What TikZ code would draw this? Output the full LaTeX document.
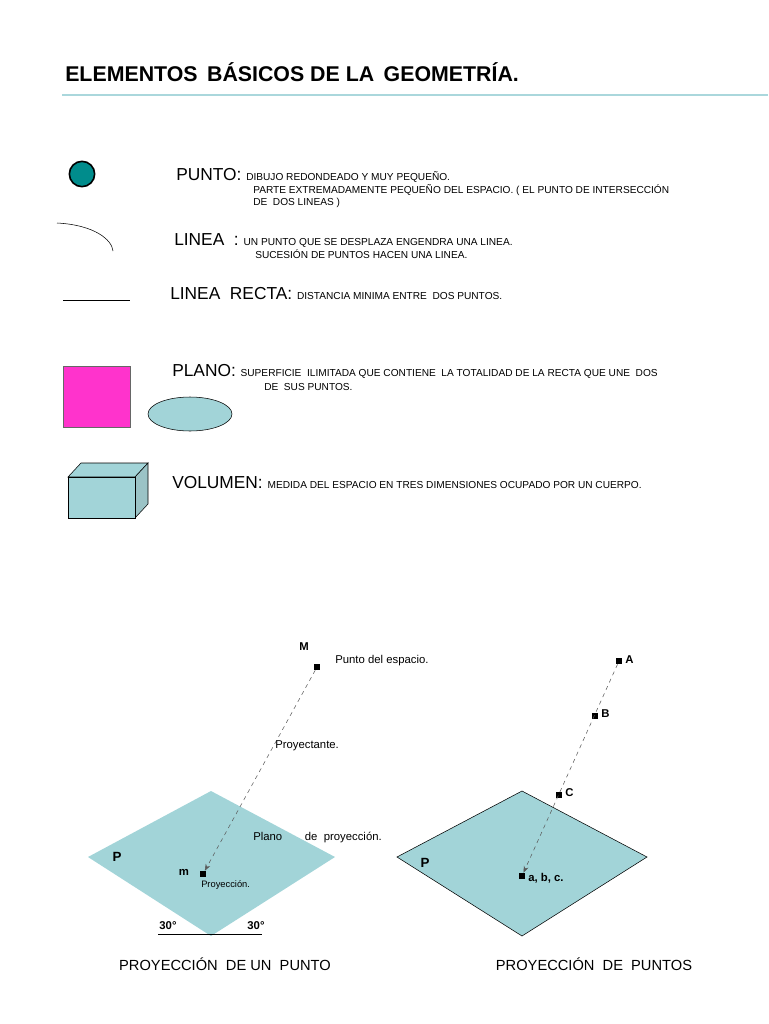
\documentclass[tikz,border=0pt]{standalone}
\usepackage{fontspec}
\setmainfont{Liberation Sans}
\usetikzlibrary{arrows.meta}
\definecolor{lb}{RGB}{162,212,216}
\definecolor{teal1}{RGB}{0,140,140}
\definecolor{mag}{RGB}{255,51,204}
\definecolor{rule}{RGB}{170,215,220}
\newcommand{\smf}{\fontsize{7.6}{9.6}\selectfont}
\tikzset{big/.style={anchor=base west,inner sep=0,font=\fontsize{13}{15}\selectfont},
sm/.style={anchor=north west,inner sep=0,font=\smf,align=left},
lab/.style={inner sep=0,font=\fontsize{8.5}{10}\selectfont},
bl/.style={inner sep=0,font=\bfseries\fontsize{8.5}{10}\selectfont},
pt/.style={fill=black,minimum size=4.5pt,inner sep=0},
proj/.style={dashed,gray!70!black,-{Stealth[length=5pt]}}}
\begin{document}
\begin{tikzpicture}[x=0.75pt,y=-0.75pt]
\useasboundingbox (0,0) rectangle (768,1024);
\node[anchor=base west,inner sep=0,font=\bfseries\fontsize{16}{19}\selectfont] (title) at (65,82) {ELEMENTOS\, BÁSICOS DE LA\, GEOMETRÍA.};
\draw[rule,line width=1.2pt] (62,95) -- (768,95);
% icons
\node[circle,draw=black,line width=1.2pt,fill=teal1,minimum size=19pt,inner sep=0] (dot) at (82,174) {};
\draw (57,223) .. controls (95,225) and (112,240) .. (113,251);
\draw (63,300) -- (130,300);
\fill[mag,draw=black!60] (63,366) rectangle (130,427);
\draw[fill=lb] (190,414) ellipse [x radius=42,y radius=17];
\draw[fill=lb] (68,477) -- (81,463) -- (148,463) -- (135,477) -- cycle;
\draw[fill=lb!80!gray] (135,477) -- (148,463) -- (148,504) -- (135,518) -- cycle;
\draw[fill=lb] (68,477) rectangle (135,518);
% texts
\node[big] (t1) at (176,180) {PUNTO: \smf DIBUJO REDONDEADO Y MUY PEQUEÑO.};
\node[sm] (t1b) at (253,184) {PARTE EXTREMADAMENTE PEQUEÑO DEL ESPACIO. ( EL PUNTO DE INTERSECCIÓN\\DE\ \ DOS LINEAS )};
\node[big] (t2) at (174,245) {LINEA\ \ : \smf UN PUNTO QUE SE DESPLAZA ENGENDRA UNA LINEA.};
\node[sm] (t2b) at (255,249) {SUCESIÓN DE PUNTOS HACEN UNA LINEA.};
\node[big] (t3) at (170,299) {LINEA\ \ RECTA: \smf DISTANCIA MINIMA ENTRE\ \ DOS PUNTOS.};
\node[big] (t4) at (172,376) {PLANO: \smf SUPERFICIE\ \ ILIMITADA QUE CONTIENE\ \ LA TOTALIDAD DE LA RECTA QUE UNE\ \ DOS};
\node[sm] (t4b) at (264,383) {DE\ \ SUS PUNTOS.};
\node[big] (t5) at (172,488) {VOLUMEN: \smf MEDIDA DEL ESPACIO EN TRES DIMENSIONES OCUPADO POR UN CUERPO.};
% left projection
\draw[fill=lb,draw=none] (211,791) -- (335,857) -- (211,936) -- (88,857) -- cycle;
\draw (158,934) -- (262,934);
\node[bl] at (168,926) {30°};
\node[bl] at (256,926) {30°};
\node[pt] (M) at (317,667) {};
\node[bl] at (304,647) {M};
\node[pt] (m) at (203,874) {};
\node[bl] at (184,872) {m};
\draw[proj] (M) -- (m);
\node[lab,anchor=west] at (335,661) {Punto del espacio.};
\node[lab,anchor=west] at (275,746) {Proyectante.};
\node[lab,anchor=west] at (253,837) {Plano\qquad de\ \ proyección.};
\node[lab,anchor=west,font=\fontsize{7}{8}\selectfont] at (201,885) {Proyección.};
\node[bl,font=\bfseries\fontsize{10}{12}\selectfont] at (117,857) {P};
\node[font=\fontsize{11}{13}\selectfont] at (225,964) {PROYECCIÓN\ \ DE UN\ \ PUNTO};
% right projection
\draw[fill=lb] (522,791) -- (647,857) -- (522,936) -- (397,857) -- cycle;
\node[pt] (A) at (619,661) {};
\node[pt] (B) at (595,716) {};
\node[pt] (C) at (559,795) {};
\node[pt] (abc) at (522,876) {};
\draw[proj] (A) -- (abc);
\node[bl,anchor=west] at (625,660) {A};
\node[bl,anchor=west] at (601,714) {B};
\node[bl,anchor=west] at (565,793) {C};
\node[bl,anchor=west] at (528,878) {a, b, c.};
\node[bl,font=\bfseries\fontsize{10}{12}\selectfont] at (425,863) {P};
\node[font=\fontsize{11}{13}\selectfont] at (594,964) {PROYECCIÓN\ \ DE\ \ PUNTOS};
\end{tikzpicture}
\end{document}
